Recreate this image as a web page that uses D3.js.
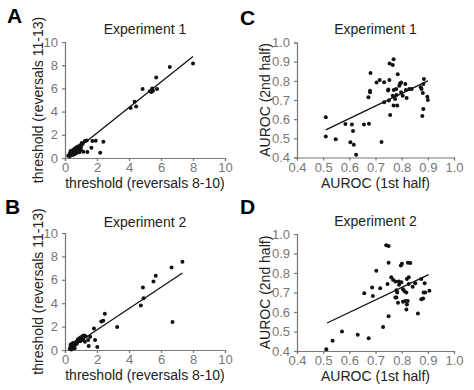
<!DOCTYPE html>
<html>
<head>
<meta charset="utf-8">
<script src="https://cdn.jsdelivr.net/npm/d3@7/dist/d3.min.js"></script>
<style>
  body { margin: 0; background: #fff; }
  text { font-family: Arial, "Liberation Sans", sans-serif; }
</style>
</head>
<body>
<div id="chart"></div>
<script>
// ======= data
var threshTicks = [0, 2, 4, 6, 8, 10];
var aurocTicks = [0.4, 0.5, 0.6, 0.7, 0.8, 0.9, 1.0];

// panel A: threshold, experiment 1 (x = reversals 8-10, y = reversals 11-13)
var threshX1 = [8.0, 6.55, 5.7, 5.75, 5.45, 5.3, 5.4, 5.5, 4.85, 4.35, 4.45, 4.1,
  2.4, 2.2, 1.92, 1.71, 1.65, 1.4, 1.24, 1.36, 1.15,
  0.2, 0.3, 0.35, 0.4, 0.45, 0.5, 0.55, 0.6, 0.65, 0.7, 0.75, 0.8, 0.85, 0.9, 0.95,
  1.0, 1.05, 0.7, 0.5, 0.3, 1.1, 0.9, 0.6, 0.8, 0.4, 1.0];
var threshY1 = [8.15, 7.85, 6.95, 5.95, 6.0, 5.75, 5.7, 5.8, 5.95, 4.85, 4.45, 4.3,
  1.4, 0.45, 1.49, 1.46, 0.89, 0.51, 1.46, 1.5, 0.54,
  0.2, 0.4, 0.6, 0.3, 0.5, 0.7, 0.45, 0.8, 0.55, 0.9, 0.65, 1.0, 0.7, 0.85, 1.1,
  0.95, 1.3, 0.4, 0.25, 0.15, 1.2, 0.5, 0.35, 0.75, 0.55, 0.7];

// panel B: threshold, experiment 2
var threshX2 = [7.34, 6.66, 6.72, 5.67, 5.53, 4.87, 4.91, 4.74, 3.26, 2.49, 2.39, 2.27,
  1.81, 1.88, 2.02, 1.48, 1.45, 1.57,
  0.3, 0.35, 0.4, 0.45, 0.5, 0.55, 0.6, 0.65, 0.7, 0.75, 0.8, 0.85, 0.9, 0.95, 1.0,
  1.05, 1.1, 1.2, 1.3, 0.4, 0.5, 0.35, 0.6, 1.25, 1.15, 0.45, 0.55];
var threshY2 = [7.54, 7.06, 2.4, 6.34, 5.86, 5.34, 4.43, 3.8, 1.97, 3.09, 2.51, 2.43,
  1.83, 0.86, 0.26, 0.34, 0.85, 1.14,
  0.1, 0.3, 0.5, 0.2, 0.6, 0.35, 0.15, 0.45, 0.7, 0.55, 0.9, 0.8, 1.0, 0.75, 1.1,
  0.9, 1.2, 1.25, 1.15, 0.05, 0.25, 0.45, 0.55, 0.7, 0.85, 0.4, 0.3];

// panel C: AUROC, experiment 1 (x = 1st half, y = 2nd half)
var aurocX1 = [0.51, 0.51, 0.548, 0.585, 0.61, 0.614, 0.604, 0.617, 0.626, 0.656, 0.675,
  0.673, 0.679, 0.679, 0.681, 0.704, 0.716, 0.733, 0.723, 0.733, 0.748, 0.749, 0.753,
  0.754, 0.756, 0.751, 0.766, 0.769, 0.766, 0.769, 0.775, 0.779, 0.783, 0.785, 0.78,
  0.791, 0.794, 0.798, 0.798, 0.804, 0.814, 0.819, 0.816, 0.829, 0.838, 0.873, 0.876,
  0.881, 0.885, 0.883, 0.883, 0.879, 0.898, 0.9, 0.77];
var aurocY1 = [0.61, 0.51, 0.495, 0.575, 0.572, 0.538, 0.48, 0.467, 0.415, 0.572, 0.576,
  0.714, 0.74, 0.748, 0.841, 0.791, 0.805, 0.793, 0.481, 0.688, 0.75, 0.755, 0.805,
  0.891, 0.622, 0.697, 0.883, 0.912, 0.722, 0.671, 0.705, 0.757, 0.671, 0.834, 0.726,
  0.774, 0.786, 0.74, 0.791, 0.722, 0.783, 0.71, 0.752, 0.757, 0.757, 0.766, 0.757,
  0.736, 0.809, 0.783, 0.653, 0.616, 0.717, 0.7, 0.752];

// panel D: AUROC, experiment 2
var aurocX2 = [0.512, 0.536, 0.572, 0.632, 0.674, 0.657, 0.687, 0.69, 0.703, 0.718, 0.729,
  0.741, 0.75, 0.75, 0.746, 0.75, 0.76, 0.767, 0.776, 0.78, 0.783, 0.78, 0.786, 0.776,
  0.789, 0.797, 0.801, 0.799, 0.805, 0.81, 0.805, 0.814, 0.82, 0.818, 0.82, 0.824,
  0.833, 0.827, 0.827, 0.823, 0.842, 0.852, 0.862, 0.875, 0.875, 0.882, 0.884, 0.888,
  0.89, 0.906, 0.818, 0.79];
var aurocY2 = [0.409, 0.452, 0.5, 0.483, 0.466, 0.696, 0.726, 0.682, 0.812, 0.722, 0.523,
  0.942, 0.939, 0.852, 0.743, 0.578, 0.778, 0.766, 0.757, 0.712, 0.7, 0.674, 0.648, 0.674,
  0.757, 0.838, 0.847, 0.752, 0.717, 0.708, 0.653, 0.656, 0.639, 0.613, 0.769, 0.852,
  0.851, 0.778, 0.743, 0.656, 0.729, 0.747, 0.592, 0.769, 0.665, 0.669, 0.7, 0.748,
  0.7, 0.709, 0.7, 0.74];

// regression lines: [slope, intercept, xStart, xEnd]
var fitA = [1.1, -0.05, 0.18, 8.0];
var fitB = [0.91, -0.1, 0.27, 7.34];
var fitC = [0.654, 0.211, 0.51, 0.9];
var fitD = [0.64, 0.214, 0.515, 0.903];

// ======= svg
var svg = d3.select("#chart")
  .append("svg")
  .attr("width", 474)
  .attr("height", 390);

function drawPanel(p) {
  var x = d3.scaleLinear().domain(p.domain).range([p.x0, p.x1]);
  var y = d3.scaleLinear().domain(p.domain).range([p.y0, p.y1]);
  var g = svg.append("g");

  // ======= axes
  var xAxis = g.append("g")
    .attr("transform", "translate(0," + p.y0 + ")")
    .call(d3.axisBottom(x).tickValues(p.ticks).tickFormat(p.fmt).tickSize(3).tickPadding(2));
  var yAxis = g.append("g")
    .attr("transform", "translate(" + p.x0 + ",0)")
    .call(d3.axisLeft(y).tickValues(p.ticks).tickFormat(p.fmt).tickSize(3).tickPadding(4));

  [xAxis, yAxis].forEach(function(a) {
    a.select(".domain").attr("stroke", "#777").attr("stroke-width", 1.2);
    a.selectAll(".tick line").attr("stroke", "#777").attr("stroke-width", 1.2);
    a.selectAll(".tick text")
      .attr("fill", "#777")
      .attr("font-size", "13px")
      .attr("font-family", "Arial, 'Liberation Sans', sans-serif");
  });

  // ======= points
  g.selectAll("circle")
    .data(p.xs)
    .enter()
    .append("circle")
    .attr("cx", function(d) { return x(d); })
    .attr("cy", function(d, j) { return y(p.ys[j]); })
    .attr("r", 2)
    .attr("fill", "#111");

  // ======= fit line
  var f = p.fit;
  g.append("line")
    .attr("x1", x(f[2]))
    .attr("y1", y(f[0] * f[2] + f[1]))
    .attr("x2", x(f[3]))
    .attr("y2", y(f[0] * f[3] + f[1]))
    .attr("stroke", "#111")
    .attr("stroke-width", 1.3);

  // ======= texts
  g.append("text")
    .text(p.title)
    .attr("x", (p.x0 + p.x1) / 2)
    .attr("y", p.titleY)
    .attr("text-anchor", "middle")
    .attr("font-size", "14px")
    .attr("fill", "#222");

  g.append("text")
    .text(p.xLabel)
    .attr("x", (p.x0 + p.x1) / 2)
    .attr("y", p.xLabelY)
    .attr("text-anchor", "middle")
    .attr("font-size", "14px")
    .attr("fill", "#222");

  g.append("text")
    .text(p.yLabel)
    .attr("transform", "translate(" + p.yLabelX + "," + (p.y0 + p.y1) / 2 + ") rotate(-90)")
    .attr("text-anchor", "middle")
    .attr("font-size", "14px")
    .attr("fill", "#222");

  g.append("text")
    .text(p.letter)
    .attr("x", p.letterX)
    .attr("y", p.letterY)
    .attr("font-size", "21px")
    .attr("font-weight", "bold")
    .attr("fill", "#000");
}

var intFmt = d3.format("d");
var decFmt = d3.format(".1f");

drawPanel({ letter: "A", letterX: 7, letterY: 23, title: "Experiment 1", titleY: 34,
  x0: 65, x1: 225, y0: 158, y1: 42, domain: [0, 10], ticks: threshTicks, fmt: intFmt,
  xs: threshX1, ys: threshY1, fit: fitA,
  xLabel: "threshold (reversals 8-10)", xLabelY: 188,
  yLabel: "threshold (reversals 11-13)", yLabelX: 43 });

drawPanel({ letter: "B", letterX: 5, letterY: 214, title: "Experiment 2", titleY: 227,
  x0: 65, x1: 225, y0: 350, y1: 233, domain: [0, 10], ticks: threshTicks, fmt: intFmt,
  xs: threshX2, ys: threshY2, fit: fitB,
  xLabel: "threshold (reversals 8-10)", xLabelY: 380,
  yLabel: "threshold (reversals 11-13)", yLabelX: 43 });

drawPanel({ letter: "C", letterX: 240, letterY: 25, title: "Experiment 1", titleY: 34,
  x0: 297, x1: 454, y0: 157.5, y1: 42.5, domain: [0.4, 1.0], ticks: aurocTicks, fmt: decFmt,
  xs: aurocX1, ys: aurocY1, fit: fitC,
  xLabel: "AUROC (1st half)", xLabelY: 188,
  yLabel: "AUROC (2nd half)", yLabelX: 270 });

drawPanel({ letter: "D", letterX: 240, letterY: 214, title: "Experiment 2", titleY: 226,
  x0: 297, x1: 454, y0: 351, y1: 234, domain: [0.4, 1.0], ticks: aurocTicks, fmt: decFmt,
  xs: aurocX2, ys: aurocY2, fit: fitD,
  xLabel: "AUROC (1st half)", xLabelY: 381,
  yLabel: "AUROC (2nd half)", yLabelX: 270 });
</script>
</body>
</html>
